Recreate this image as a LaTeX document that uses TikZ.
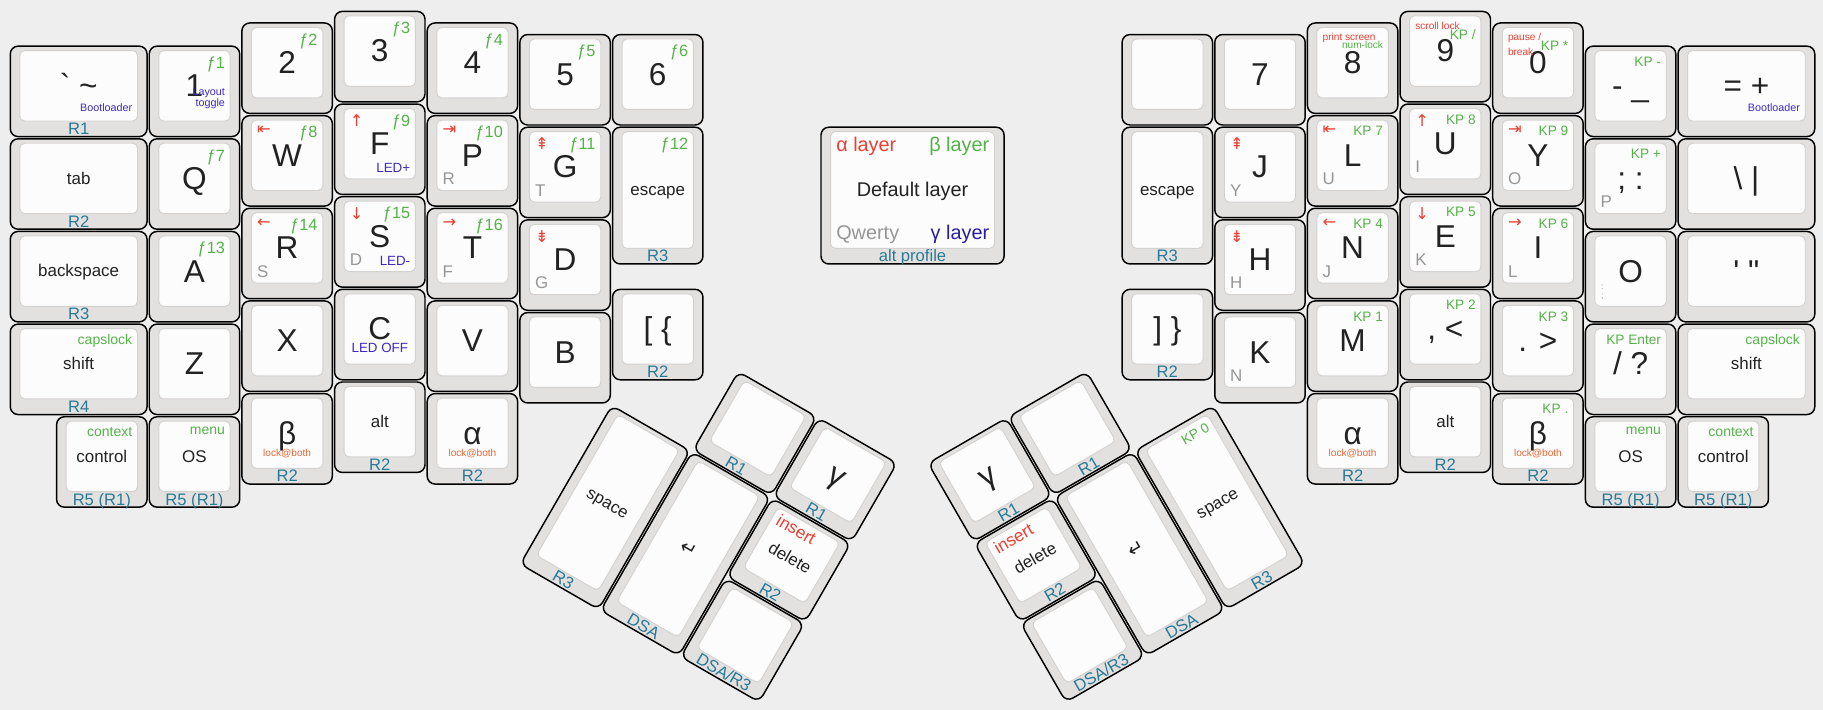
\documentclass[tikz,border=0pt]{standalone}
\usepackage{fontspec}
\setmainfont{Liberation Sans}
\newfontfamily\arrowsfont{DejaVu Sans}

\definecolor{bg}{RGB}{238,238,238}
\definecolor{rim}{RGB}{227,224,224}
\definecolor{capface}{RGB}{253,252,252}
\definecolor{faceline}{RGB}{212,209,209}
\definecolor{ink}{RGB}{34,34,34}
\definecolor{fgreen}{RGB}{84,178,72}
\definecolor{navred}{RGB}{232,64,52}
\definecolor{qgray}{RGB}{150,150,150}
\definecolor{ledblue}{RGB}{62,42,190}
\definecolor{layerblue}{RGB}{40,30,160}
\definecolor{proteal}{RGB}{42,122,150}
\definecolor{lockorange}{RGB}{226,104,56}

% one key cap: name, x, y, width, height (in key units)
\newcommand{\kcap}[5]{%
  \begin{scope}[shift={(#2,#3)}]
    \draw[keyrim] (0.012,0.012) rectangle (#4-0.012,#5-0.012);
    \draw[keytop] (0.115,0.06) rectangle (#4-0.115,#5-0.18);
    \coordinate (#1-tl) at (0.17,0.12);
    \coordinate (#1-tr) at (#4-0.165,0.12);
    \coordinate (#1-bl) at (0.17,#5-0.245);
    \coordinate (#1-br) at (#4-0.165,#5-0.245);
    \coordinate (#1-c)  at (#4/2,#5/2-0.06);
    \coordinate (#1-bc) at (#4/2,#5-0.31);
    \coordinate (#1-fr) at (#4/2,#5-0.035);
  \end{scope}}
% one legend: key, position, style, text
\newcommand{\klabel}[4]{\node[#3, lbl #2] (#1-#2-t) at (#1-#2) {#4};}

\begin{document}
\begin{tikzpicture}[x=1cm, y=-1cm,
  keyrim/.style={draw=black, line width=0.45pt, fill=rim, rounded corners=2.4pt},
  keytop/.style={draw=faceline, line width=0.3pt, fill=capface, rounded corners=1.5pt},
  lbl tl/.style={anchor=north west}, lbl tr/.style={anchor=north east},
  lbl bl/.style={anchor=base west}, lbl br/.style={anchor=base east},
  lbl c/.style={anchor=center}, lbl bc/.style={anchor=base}, lbl fr/.style={anchor=base}]
    \tikzstyle{legend}=[inner sep=0pt, text=ink]
    \tikzstyle{main}=[legend, font=\fontsize{9.7}{11}\selectfont, text height=6.7pt, text depth=0pt]
    \tikzstyle{word}=[legend, font=\fontsize{5.2}{6}\selectfont, text height=3.6pt, text depth=0pt]
    \tikzstyle{fkey}=[legend, text=fgreen, font=\fontsize{5}{6}\selectfont]
    \tikzstyle{mods}=[legend, text=fgreen, font=\fontsize{4.3}{5}\selectfont]
    \tikzstyle{kpad}=[legend, text=fgreen, font=\fontsize{4.2}{5}\selectfont]
    \tikzstyle{nav}=[legend, text=navred, font=\arrowsfont\fontsize{5}{6}\selectfont]
    \tikzstyle{ins}=[legend, text=navred, font=\fontsize{5.3}{6}\selectfont]
    \tikzstyle{sys}=[legend, text=navred, font=\fontsize{3.1}{4.4}\selectfont]
    \tikzstyle{qwerty}=[legend, text=qgray, font=\fontsize{5.2}{6}\selectfont]
    \tikzstyle{led}=[legend, text=ledblue, font=\fontsize{4.1}{5}\selectfont]
    \tikzstyle{boot}=[legend, text=ledblue, font=\fontsize{3.3}{3.4}\selectfont]
    \tikzstyle{lock}=[legend, text=lockorange, font=\fontsize{3.1}{4}\selectfont]
    \tikzstyle{profile}=[legend, text=proteal, font=\fontsize{5.1}{6}\selectfont]
    \tikzstyle{layer}=[legend, font=\fontsize{6.1}{7}\selectfont, text height=4.2pt, text depth=0pt]
    \tikzstyle{enter}=[legend, font=\arrowsfont\fontsize{6}{7}\selectfont]

    \path[fill=bg, use as bounding box] (-0.099,-0.111) rectangle (19.577,7.552);

    % Draw the left hand keys
    \foreach \name/\x/\y/\w/\h in {grave/0/0.375/1.5/1, one/1.5/0.375/1/1, two/2.5/0.125/1/1,
      three/3.5/0/1/1, four/4.5/0.125/1/1, five/5.5/0.25/1/1, six/6.5/0.25/1/1,
      tab/0/1.375/1.5/1, Q/1.5/1.375/1/1, W/2.5/1.125/1/1, F/3.5/1/1/1, P/4.5/1.125/1/1,
      G/5.5/1.25/1/1, lesc/6.5/1.25/1/1.5,
      bksp/0/2.375/1.5/1, A/1.5/2.375/1/1, R/2.5/2.125/1/1, S/3.5/2/1/1, T/4.5/2.125/1/1, D/5.5/2.25/1/1,
      lshift/0/3.375/1.5/1, Z/1.5/3.375/1/1, X/2.5/3.125/1/1, C/3.5/3/1/1, V/4.5/3.125/1/1,
      B/5.5/3.25/1/1, lbrack/6.5/3/1/1,
      lctrl/0.5/4.375/1/1, los/1.5/4.375/1/1, lbeta/2.5/4.125/1/1, lalt/3.5/4/1/1, lalpha/4.5/4.125/1/1}
    {\kcap{\name}{\x}{\y}{\w}{\h}}

    % Draw the right hand keys
    \foreach \name/\x/\y/\w/\h in {rblank/12/0.25/1/1, seven/13/0.25/1/1, eight/14/0.125/1/1,
      nine/15/0/1/1, zero/16/0.125/1/1, minus/17/0.375/1/1, equal/18/0.375/1.5/1,
      resc/12/1.25/1/1.5, J/13/1.25/1/1, L/14/1.125/1/1, U/15/1/1/1, Y/16/1.125/1/1,
      semi/17/1.375/1/1, bslash/18/1.375/1.5/1,
      H/13/2.25/1/1, N/14/2.125/1/1, E/15/2/1/1, I/16/2.125/1/1, O/17/2.375/1/1, quote/18/2.375/1.5/1,
      rbrack/12/3/1/1, K/13/3.25/1/1, M/14/3.125/1/1, comma/15/3/1/1, period/16/3.125/1/1,
      slash/17/3.375/1/1, rshift/18/3.375/1.5/1,
      ralpha/14/4.125/1/1, ralt/15/4/1/1, rbeta/16/4.125/1/1, ros/17/4.375/1/1, rctrl/18/4.375/1/1}
    {\kcap{\name}{\x}{\y}{\w}{\h}}

    % Draw the layer legend key
    \kcap{layers}{8.75}{1.25}{2}{1.5}

    % Main legends
    \foreach \name/\txt in {one/1, two/2, three/3, four/4, five/5, six/6, Q/Q, W/W, F/F, P/P, G/G,
      A/A, R/R, S/S, T/T, D/D, Z/Z, X/X, C/C, V/V, B/B, lbeta/β, lalpha/α,
      seven/7, eight/8, nine/9, zero/0, J/J, L/L, U/U, Y/Y, H/H, N/N, E/E, I/I, O/O,
      K/K, M/M, ralpha/α, rbeta/β}
    {\klabel{\name}{c}{main}{\txt}}
    \klabel{grave}{c}{main}{\textasciigrave\ \textasciitilde}
    \klabel{lbrack}{c}{main}{[ \{}
    \klabel{rbrack}{c}{main}{] \}}
    \klabel{minus}{c}{main}{- \_}
    \klabel{equal}{c}{main}{= +}
    \klabel{semi}{c}{main}{; :}
    \klabel{bslash}{c}{main}{\textbackslash\ |}
    \klabel{quote}{c}{main}{\textquotesingle\ \textquotedbl}
    \klabel{comma}{c}{main}{, <}
    \klabel{period}{c}{main}{. >}
    \klabel{slash}{c}{main}{/ ?}
    \foreach \name/\txt in {tab/tab, lesc/escape, bksp/backspace, lshift/shift, lctrl/control,
      los/OS, lalt/alt, resc/escape, rshift/shift, ralt/alt, ros/OS, rctrl/control}
    {\klabel{\name}{c}{word}{\txt}}

    % Function and keypad layer
    \foreach \name/\n in {one/1, two/2, three/3, four/4, five/5, six/6, Q/7, W/8, F/9, P/10,
      G/11, lesc/12, A/13, R/14, S/15, T/16}
    {\klabel{\name}{tr}{fkey}{ƒ\n}}
    \foreach \name/\txt in {lshift/capslock, lctrl/context, los/menu, rshift/capslock, ros/menu, rctrl/context}
    {\klabel{\name}{tr}{mods}{\txt}}
    \foreach \name/\txt in {minus/KP -, semi/KP +, L/KP 7, U/KP 8, Y/KP 9, N/KP 4, E/KP 5,
      I/KP 6, M/KP 1, comma/KP 2, period/KP 3, slash/KP Enter, rbeta/KP .}
    {\klabel{\name}{tr}{kpad}{\txt}}

    % Navigation layer
    \foreach \name/\txt in {W/⇤, F/↑, P/⇥, G/⇞, R/←, S/↓, T/→, D/⇟, J/⇞, L/⇤, U/↑, Y/⇥,
      H/⇟, N/←, E/↓, I/→}
    {\klabel{\name}{tl}{nav}{\txt}}
    \node[sys, lbl tl] (eight-tl-t) at (eight-tl) {print screen};
    \node[sys, text=fgreen, lbl tr, yshift=-2.3pt] (eight-tr-t) at (eight-tr) {num-lock};
    \node[sys, lbl tl] (nine-tl-t) at (nine-tl) {scroll lock};
    \node[kpad, lbl tr, yshift=-2.4pt] (nine-tr-t) at (nine-tr) {KP /};
    \node[sys, lbl tl, align=left] (zero-tl-t) at (zero-tl) {pause /\\break};
    \node[kpad, lbl tr, yshift=-2.2pt] (zero-tr-t) at (zero-tr) {KP *};

    % Qwerty positions
    \foreach \name/\txt in {P/R, G/T, R/S, S/D, T/F, D/G, J/Y, L/U, U/I, Y/O, semi/P, H/H,
      N/J, E/K, I/L, K/N}
    {\klabel{\name}{bl}{qwerty}{\txt}}
    \node[qwerty, font=\fontsize{2.6}{2.8}\selectfont, align=left, anchor=south west] (O-bl-t) at (O-bl) {:\\;};

    % Leds, bootloader and locks
    \klabel{F}{br}{led}{LED+}
    \klabel{S}{br}{led}{LED-}
    \klabel{C}{bc}{led}{LED OFF}
    \node[boot, lbl br, yshift=1.2pt] (grave-br-t) at (grave-br) {Bootloader};
    \node[boot, lbl br, yshift=1.2pt] (equal-br-t) at (equal-br) {Bootloader};
    \node[boot, align=right, anchor=south east, yshift=1.6pt] (one-br-t) at (one-br) {Layout\\toggle};
    \foreach \name in {lbeta, lalpha, ralpha, rbeta}
    {\klabel{\name}{bc}{lock}{lock@both}}

    % Key profiles
    \foreach \name/\txt in {grave/R1, tab/R2, bksp/R3, lshift/R4, lctrl/R5 (R1), los/R5 (R1),
      lbeta/R2, lalt/R2, lalpha/R2, lesc/R3, lbrack/R2, resc/R3, rbrack/R2, ralpha/R2,
      ralt/R2, rbeta/R2, ros/R5 (R1), rctrl/R5 (R1)}
    {\klabel{\name}{fr}{profile}{\txt}}

    % Layer legend
    \klabel{layers}{tl}{layer, text=navred}{α layer}
    \klabel{layers}{tr}{layer, text=fgreen}{β layer}
    \klabel{layers}{c}{layer}{Default layer}
    \node[layer, text=qgray, lbl bl, yshift=1pt] (layers-bl-t) at (layers-bl) {Qwerty};
    \node[layer, text=layerblue, lbl br, yshift=1pt] (layers-br-t) at (layers-br) {γ layer};
    \klabel{layers}{fr}{profile}{alt profile}

    % Draw the left thumb cluster
    \begin{scope}[shift={(6.5,4.25)}, rotate=-30, transform shape]
      \foreach \name/\x/\y/\w/\h in {lthA/1/-1/1/1, lgamma/2/-1/1/1, lspace/0/0/1/2,
        lenter/1/0/1/2, ldel/2/0/1/1, lthB/2/1/1/1}
      {\kcap{\name}{\x}{\y}{\w}{\h}}
      \klabel{lgamma}{c}{main}{γ}
      \klabel{lspace}{c}{word}{space}
      \klabel{lenter}{c}{enter}{↵}
      \node[ins, lbl tl, yshift=0.6pt] (ldel-tl-t) at (ldel-tl) {insert};
      \node[word, lbl c, yshift=-1pt] (ldel-c-t) at (ldel-c) {delete};
      \foreach \name/\txt in {lthA/R1, lgamma/R1, lspace/R3, lenter/DSA, ldel/R2}
      {\klabel{\name}{fr}{profile}{\txt}}
      \klabel{lthB}{fr}{profile}{DSA/R3}
    \end{scope}

    % Draw the right thumb cluster
    \begin{scope}[shift={(13,4.25)}, rotate=30, transform shape]
      \foreach \name/\x/\y/\w/\h in {rgamma/-3/-1/1/1, rthA/-2/-1/1/1, rdel/-3/0/1/1,
        renter/-2/0/1/2, rspace/-1/0/1/2, rthB/-3/1/1/1}
      {\kcap{\name}{\x}{\y}{\w}{\h}}
      \klabel{rgamma}{c}{main}{γ}
      \node[ins, lbl tl, yshift=0.6pt] (rdel-tl-t) at (rdel-tl) {insert};
      \node[word, lbl c, yshift=-1pt] (rdel-c-t) at (rdel-c) {delete};
      \klabel{renter}{c}{enter}{↵}
      \klabel{rspace}{c}{word}{space}
      \klabel{rspace}{tr}{kpad}{KP 0}
      \foreach \name/\txt in {rgamma/R1, rthA/R1, rdel/R2, renter/DSA, rspace/R3}
      {\klabel{\name}{fr}{profile}{\txt}}
      \klabel{rthB}{fr}{profile}{DSA/R3}
    \end{scope}

\end{tikzpicture}
\end{document}
